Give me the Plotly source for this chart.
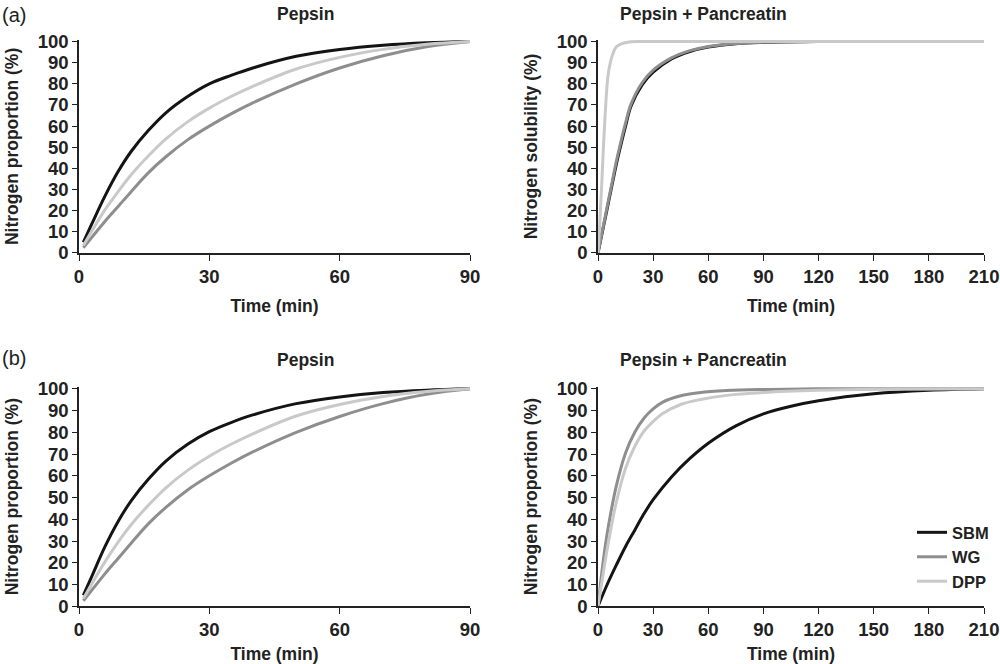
import plotly.graph_objects as go
from plotly.subplots import make_subplots

# ---- data ----
series = ['SBM', 'WG', 'DPP']
colors = {'SBM': '#141414', 'WG': '#8e8e8e', 'DPP': '#c9c9c9'}

# (a) Pepsin
a_pep_t = [1, 3, 6, 9, 12, 16, 20, 25, 30, 35, 40, 50, 60, 70, 80, 90]
a_pep_y = {
    'SBM': [5, 14, 27, 38.5, 48, 58, 66.3, 74, 80, 84, 87.5, 93, 96.2, 98.2, 99.4, 100],
    'WG':  [2.5, 7.5, 15, 22, 29, 38, 45.5, 53.5, 60, 65.8, 71, 80, 87.5, 93.3, 97.5, 100],
    'DPP': [3.5, 10.5, 20.5, 29, 37, 46, 54, 62, 68.5, 74, 78.8, 87, 92.5, 96.3, 98.7, 100],
}

# (a) Pepsin + Pancreatin
a_pan_t = {
    'SBM': [0, 5, 7, 10, 12, 15, 18, 24, 30, 40, 50, 60, 75, 90, 120, 150, 180, 210],
    'WG':  [0, 5, 7, 10, 12, 15, 18, 24, 30, 40, 50, 60, 75, 90, 120, 150, 180, 210],
    'DPP': [0, 1, 2, 3, 4, 5, 6, 8, 10, 13, 17, 25, 60, 120, 210],
}
a_pan_y = {
    'SBM': [0, 21, 29.5, 42, 49.5, 60, 69.5, 79.5, 85.5, 91.8, 95.3, 97.4, 99, 99.6, 100, 100, 100, 100],
    'WG':  [0, 22, 30.5, 43.5, 51, 61.5, 70.5, 80.5, 86.5, 92.3, 95.7, 97.7, 99.1, 99.7, 100, 100, 100, 100],
    'DPP': [0, 15, 32, 51, 67, 80, 87, 94, 97.5, 99, 99.8, 100, 100, 100, 100],
}

# (b) Pepsin
b_pep_t = a_pep_t
b_pep_y = {
    'SBM': [5, 14, 27.5, 39, 48.5, 58.5, 66.8, 74.5, 80.3, 84.5, 88, 93.2, 96.3, 98.3, 99.4, 100],
    'WG':  [2.5, 7.5, 15, 22, 29, 38, 45.5, 53.5, 60, 65.8, 71, 80, 87.3, 93.2, 97.5, 100],
    'DPP': [3.5, 10.5, 20.5, 29.5, 37.5, 46.5, 54.5, 62.5, 69, 74.5, 79.3, 87.5, 92.8, 96.5, 98.8, 100],
}

# (b) Pepsin + Pancreatin
b_pan_t = {
    'SBM': [0, 5, 10, 15, 20, 25, 30, 40, 50, 60, 75, 90, 105, 120, 150, 180, 210],
    'WG':  [0, 2, 4, 6, 10, 15, 20, 25, 30, 35, 45, 55, 70, 90, 120, 210],
    'DPP': [0, 3, 6, 10, 15, 20, 25, 30, 35, 45, 55, 70, 90, 120, 150, 210],
}
b_pan_y = {
    'SBM': [0, 10, 19, 27.5, 35, 42.5, 49, 59.5, 68, 75, 83, 88.5, 92, 94.5, 97.7, 99.3, 100],
    'WG':  [0, 15, 28, 38.5, 55.5, 70.5, 80, 86.5, 90.8, 93.8, 96.8, 98.2, 99.2, 99.7, 100, 100],
    'DPP': [0, 16, 31, 48, 63.5, 73.5, 80.5, 85, 88.6, 92.8, 95, 97, 98.3, 99.3, 99.8, 100],
}

panels = [
    (1, 1, a_pep_t, a_pep_y),
    (1, 2, a_pan_t, a_pan_y),
    (2, 1, b_pep_t, b_pep_y),
    (2, 2, b_pan_t, b_pan_y),
]

fig = make_subplots(rows=2, cols=2)

for row, col, tt, yy in panels:
    for s in series:
        xs = tt[s] if isinstance(tt, dict) else tt
        fig.add_trace(go.Scatter(x=xs, y=yy[s], mode='lines', name=s,
                                 line=dict(color=colors[s], width=3, shape='spline', smoothing=1.0),
                                 showlegend=(row == 2 and col == 2)),
                      row=row, col=col)

FONT = 'Liberation Sans, Arial, sans-serif'
tickfont = dict(family=FONT, size=18.5, color='#222', weight='bold')
titlefont = dict(family=FONT, size=17.5, color='#222', weight='bold')

xdom = {1: [0.079, 0.47], 2: [0.598, 0.984]}
ydom = {1: [0.619, 0.94], 2: [0.087, 0.417]}
ytitles = {(1, 1): 'Nitrogen proportion (%)', (1, 2): 'Nitrogen solubility (%)',
           (2, 1): 'Nitrogen proportion (%)', (2, 2): 'Nitrogen proportion (%)'}

for row, col, tt, yy in panels:
    xmax = 90 if col == 1 else 210
    fig.update_xaxes(domain=xdom[col], range=[0, xmax], tickvals=list(range(0, xmax + 1, 30)),
                     showline=True, linecolor='#222', linewidth=1.5, ticks='outside',
                     ticklen=6, tickcolor='#222', showgrid=False, zeroline=False,
                     automargin=False, tickfont=tickfont,
                     title=dict(text='Time (min)', font=titlefont, standoff=14),
                     row=row, col=col)
    fig.update_yaxes(domain=ydom[row], range=[0, 100.8], tickvals=list(range(0, 101, 10)),
                     showline=True, linecolor='#222', linewidth=1.5, ticks='outside',
                     ticklen=5, tickcolor='#222', showgrid=False, zeroline=False,
                     automargin=False, tickfont=tickfont,
                     title=dict(text=ytitles[(row, col)], font=titlefont, standoff=15),
                     row=row, col=col)

annotations = [
    dict(text='Pepsin', x=0.275, y=0.979),
    dict(text='Pepsin + Pancreatin', x=0.789, y=0.979),
    dict(text='Pepsin', x=0.275, y=0.458),
    dict(text='Pepsin + Pancreatin', x=0.789, y=0.458),
]
annotations = [dict(a, xref='paper', yref='paper', showarrow=False, yanchor='middle',
                    font=dict(family=FONT, size=17.5, color='#222', weight='bold'))
               for a in annotations]
annotations += [
    dict(text='(a)', x=0.0, y=0.978, xref='paper', yref='paper', xanchor='left', yanchor='middle',
         showarrow=False, font=dict(family=FONT, size=20, color='#222')),
    dict(text='(b)', x=0.0, y=0.461, xref='paper', yref='paper', xanchor='left', yanchor='middle',
         showarrow=False, font=dict(family=FONT, size=20, color='#222')),
]

fig.update_layout(width=1000, height=664, margin=dict(l=0, r=0, t=0, b=0),
                  plot_bgcolor='white', paper_bgcolor='white',
                  annotations=annotations,
                  legend=dict(x=0.912, y=0.161, xanchor='left', yanchor='middle',
                              font=dict(family=FONT, size=16.5, color='#222', weight='bold'),
                              bgcolor='rgba(0,0,0,0)', tracegroupgap=0, itemwidth=30))

# the page adds an 8px body margin by default; drop it so the figure fills the window
fig.write_html("out.html", config={'displayModeBar': False},
               post_script="document.body.style.margin='0';")
